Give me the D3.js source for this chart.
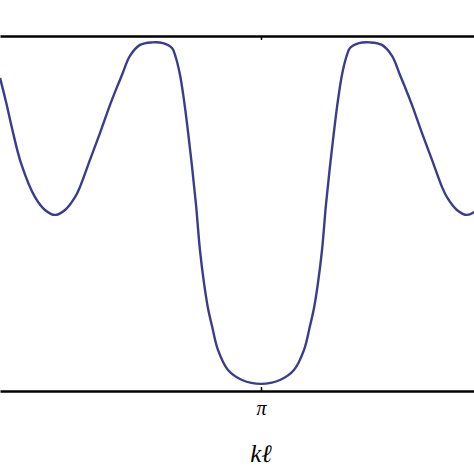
<!DOCTYPE html>
<html>
<head>
  <meta charset="utf-8">
  <script src="https://d3js.org/d3.v7.min.js"></script>
  <style>
    body { margin: 0; background: #fff; }
  </style>
</head>
<body>
  <script>
    var width = 474;
    var height = 474;

    // kl values (radians) and curve values
    var kl = [1.151, 1.197, 1.242, 1.311, 1.418, 1.494, 1.570, 1.647, 1.723, 1.761,
              1.837, 1.914, 1.990, 2.043, 2.081, 2.142, 2.219, 2.310, 2.394, 2.463,
              2.493, 2.524, 2.554, 2.585, 2.615, 2.646, 2.676, 2.707, 2.737, 2.768,
              2.814, 2.890, 2.997, 3.142, 3.286, 3.393, 3.469, 3.515, 3.546, 3.576,
              3.607, 3.637, 3.668, 3.698, 3.729, 3.759, 3.790, 3.820, 3.889, 3.973,
              4.064, 4.141, 4.202, 4.240, 4.293, 4.369, 4.446, 4.522, 4.560, 4.636,
              4.713, 4.789, 4.865];
    var values = [0.882, 0.814, 0.741, 0.642, 0.546, 0.510, 0.496, 0.510, 0.546, 0.575,
                  0.651, 0.727, 0.806, 0.856, 0.890, 0.944, 0.975, 0.982, 0.980, 0.966,
                  0.938, 0.890, 0.820, 0.730, 0.634, 0.524, 0.397, 0.304, 0.234, 0.183,
                  0.115, 0.059, 0.031, 0.020, 0.031, 0.059, 0.115, 0.183, 0.234, 0.304,
                  0.397, 0.524, 0.634, 0.730, 0.820, 0.890, 0.938, 0.966, 0.980, 0.982,
                  0.975, 0.944, 0.890, 0.856, 0.806, 0.727, 0.651, 0.575, 0.546, 0.510,
                  0.496, 0.510, 0.546];
    var tickValues = [Math.PI];
    var tickLabels = ["π"];

    var svg = d3.select("body")
      .append("svg")
      .attr("width", width)
      .attr("height", height);

    var x = d3.scaleLinear().domain([1.1508, 4.7663]).range([0, width]);
    var y = d3.scaleLinear().domain([0, 1]).range([391, 36]);

    var data = kl.map(function(k, i) { return { k: k, v: values[i] }; });

    var line = d3.line()
      .x(function(d) { return x(d.k); })
      .y(function(d) { return y(d.v); })
      .curve(d3.curveCatmullRom.alpha(0.5));

    svg.append("path")
      .datum(data)
      .attr("d", line)
      .attr("fill", "none")
      .attr("stroke", "#3c3c8c")
      .attr("stroke-width", 2.4);

    // bottom axis, inward tick
    var bottomAxis = svg.append("g")
      .attr("transform", "translate(0,391)")
      .call(d3.axisBottom(x).tickValues(tickValues)
        .tickFormat(function(d, i) { return tickLabels[i]; })
        .tickSizeInner(-4).tickSizeOuter(0));
    bottomAxis.select(".domain").attr("stroke-width", 2.4);
    bottomAxis.selectAll(".tick line").attr("stroke-width", 1.5);
    bottomAxis.selectAll(".tick text")
      .attr("y", 24).attr("dy", 0)
      .style("font-family", "'Liberation Serif', 'DejaVu Serif', serif")
      .style("font-style", "italic")
      .style("font-size", "20px");

    // top axis, inward tick, no labels
    var topAxis = svg.append("g")
      .attr("transform", "translate(0,36)")
      .call(d3.axisTop(x).tickValues(tickValues)
        .tickFormat("").tickSizeInner(-4).tickSizeOuter(0));
    topAxis.select(".domain").attr("stroke-width", 2.4);
    topAxis.selectAll(".tick line").attr("stroke-width", 1.5);

    svg.append("text")
      .attr("x", x(Math.PI))
      .attr("y", 462)
      .attr("text-anchor", "middle")
      .style("font-family", "'Liberation Serif', 'DejaVu Serif', serif")
      .style("font-style", "italic")
      .style("font-size", "25px")
      .text("kℓ");
  </script>
</body>
</html>
